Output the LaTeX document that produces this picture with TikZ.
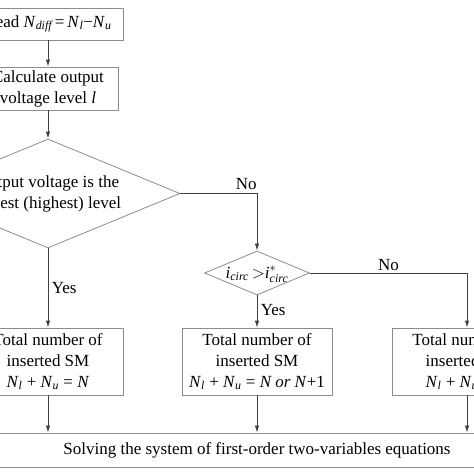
\documentclass[tikz,border=0pt]{standalone}
\usepackage{amsmath}
\usepackage{fontspec}
\setmainfont{Liberation Serif}
\usetikzlibrary{shapes.geometric,arrows.meta}
\definecolor{boxgray}{gray}{0.55}
\definecolor{arrowgray}{gray}{0.25}
\newcommand{\subvar}[2]{\textit{#1}$_{\textit{#2}}$}
\newcommand{\zerotext}[1]{\raisebox{-0.3em}[0pt][0pt]{\makebox[0pt]{#1}}}
\tikzset{
  box/.style={draw=boxgray, line width=0.8pt, inner sep=0pt, align=center},
  decision/.style={diamond, draw=boxgray, line width=0.8pt, inner sep=0pt},
  flow/.style={draw=arrowgray, line width=0.9pt, -{Latex[length=7pt,width=4.5pt]}},
  every node/.style={font=\fontsize{17}{21}\selectfont}
}

\begin{document}
\begin{tikzpicture}[x=1pt,y=-1pt]
    \useasboundingbox (0,0) rectangle (474,474);
    \clip (0,0) rectangle (474,474);
    % boxes
    \node[box, minimum width=150pt, minimum height=32pt] (read) at (48,24) {Read \subvar{N}{diff}\,=\,\subvar{N}{l}−\subvar{N}{u}};
    \node[box, minimum width=140pt, minimum height=43pt] (calc) at (48,88.5) {Calculate output\\voltage level \textit{l}};
    \node[decision, minimum width=264pt, minimum height=109pt] (levelq) at (48,193.5)
        {\zerotext{\begin{tabular}[c]{@{}c@{}}Output voltage is the\\lowest (highest) level\end{tabular}}};
    \node[decision, minimum width=105pt, minimum height=44pt] (circq) at (257,273)
        {\zerotext{\textit{i}$_{\textit{circ}}$\,$>$\textit{i}$_{\textit{circ}}^{*}$}};
    \node[box, minimum width=150pt, minimum height=67pt] (lowbox) at (48,361.5) {Total number of\\inserted SM\\\subvar{N}{l} + \subvar{N}{u} = \textit{N}};
    \node[box, minimum width=150pt, minimum height=67pt] (midbox) at (257,361.5) {Total number of\\inserted SM\\\subvar{N}{l} + \subvar{N}{u} = \textit{N or N}+1};
    \node[box, minimum width=150pt, minimum height=67pt] (rightbox) at (467,361.5) {Total number of\\inserted SM\\\subvar{N}{l} + \subvar{N}{u} = \textit{N}};
    \node[box, minimum width=640pt, minimum height=34pt] (solve) at (257,450) {Solving the system of first-order two-variables equations};
    % connectors
    \draw[flow] (read) -- (calc);
    \draw[flow] (calc) -- (levelq);
    \draw[flow] (levelq.east) -| node[above, pos=0.43] {No} (circq.north);
    \draw[flow] (levelq.south) -- node[right, pos=0.5] {Yes} (lowbox.north);
    \draw[flow] (circq.east) -| node[above, pos=0.25, inner sep=2pt] {No} (rightbox.north);
    \draw[flow] (circq.south) -- node[right, pos=0.45] {Yes} (midbox.north);
    \foreach \b in {lowbox, midbox, rightbox}
        \draw[flow] (\b.south) -- (\b.south |- solve.north);
\end{tikzpicture}
\end{document}
